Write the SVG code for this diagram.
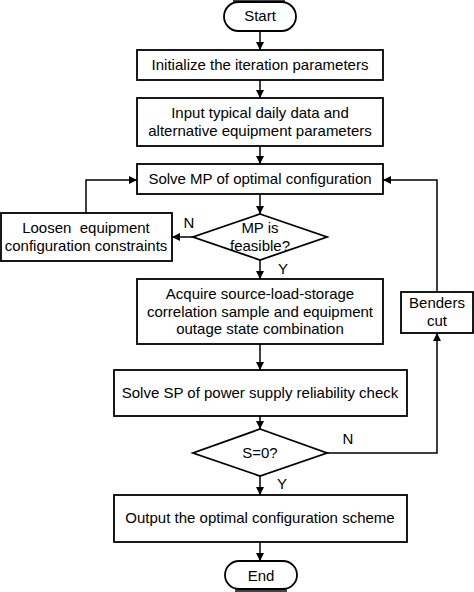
<svg xmlns="http://www.w3.org/2000/svg" width="474" height="592" viewBox="0 0 474 592">
<style>
.b{fill:#fff;stroke:#000;stroke-width:1.8}
.t{font-family:"Liberation Sans",Arial,sans-serif;font-size:15px;fill:#000;text-anchor:middle}
.c{fill:none;stroke:#000;stroke-width:1.5}
</style>
<defs>
<marker id="a" viewBox="0 0 10 10" refX="10" refY="5" markerWidth="8" markerHeight="8" markerUnits="userSpaceOnUse" orient="auto">
<path d="M0,0 L10,5 L0,10 z" fill="#000"/>
</marker>
</defs>
<rect width="474" height="592" fill="#fff"/>
<rect x="233" y="0" width="52" height="3" fill="#444"/>
<rect x="235" y="589" width="52" height="3" fill="#444"/>
<g id="connectors">
<line class="c" x1="260" y1="31" x2="260" y2="50" marker-end="url(#a)"/>
<line class="c" x1="260" y1="80" x2="260" y2="98" marker-end="url(#a)"/>
<line class="c" x1="260" y1="146" x2="260" y2="164" marker-end="url(#a)"/>
<line class="c" x1="260" y1="194" x2="260" y2="214" marker-end="url(#a)"/>
<line class="c" x1="193" y1="237" x2="172" y2="237" marker-end="url(#a)"/>
<polyline class="c" points="86,213 86,180 137,180" marker-end="url(#a)"/>
<line class="c" x1="260" y1="260" x2="260" y2="279" marker-end="url(#a)"/>
<line class="c" x1="260" y1="344" x2="260" y2="370" marker-end="url(#a)"/>
<line class="c" x1="260" y1="416" x2="260" y2="429" marker-end="url(#a)"/>
<polyline class="c" points="327,453 437,453 437,333" marker-end="url(#a)"/>
<polyline class="c" points="437,292 437,180 383,180" marker-end="url(#a)"/>
<line class="c" x1="260" y1="476" x2="260" y2="495" marker-end="url(#a)"/>
<line class="c" x1="260" y1="542" x2="260" y2="561" marker-end="url(#a)"/>
<text class="t" x="189" y="228">N</text>
<text class="t" x="283" y="274">Y</text>
<text class="t" x="348" y="444">N</text>
<text class="t" x="282" y="489">Y</text>
</g>
<g id="start">
<rect class="b" x="224" y="2" width="72" height="29" rx="14.5"/>
<text class="t" x="260" y="21">Start</text>
</g>
<g id="init">
<rect class="b" x="137" y="50" width="246" height="30"/>
<text class="t" x="260" y="70">Initialize the iteration parameters</text>
</g>
<g id="input">
<rect class="b" x="137" y="98" width="246" height="48"/>
<text class="t" x="260" y="118">Input typical daily data and</text>
<text class="t" x="260" y="136">alternative equipment parameters</text>
</g>
<g id="solvemp">
<rect class="b" x="137" y="164" width="246" height="30"/>
<text class="t" x="260" y="184">Solve MP of optimal configuration</text>
</g>
<g id="loosen">
<rect class="b" x="1" y="213" width="171" height="48"/>
<text class="t" x="86" y="233" xml:space="preserve">Loosen  equipment</text>
<text class="t" x="86" y="251">configuration constraints</text>
</g>
<g id="feasible">
<polygon class="b" points="260,214 327,237 260,260 193,237"/>
<text class="t" x="260" y="233">MP is</text>
<text class="t" x="260" y="251">feasible?</text>
</g>
<g id="acquire">
<rect class="b" x="137" y="279" width="246" height="65"/>
<text class="t" x="260" y="299">Acquire source-load-storage</text>
<text class="t" x="260" y="317">correlation sample and equipment</text>
<text class="t" x="260" y="334">outage state combination</text>
</g>
<g id="benders">
<rect class="b" x="401" y="292" width="72" height="41"/>
<text class="t" x="437" y="308">Benders</text>
<text class="t" x="437" y="326">cut</text>
</g>
<g id="solvesp">
<rect class="b" x="114" y="370" width="293" height="46"/>
<text class="t" x="260" y="398">Solve SP of power supply reliability check</text>
</g>
<g id="s0">
<polygon class="b" points="260,429 327,453 260,476 193,453"/>
<text class="t" x="260" y="458">S=0?</text>
</g>
<g id="output">
<rect class="b" x="114" y="495" width="293" height="47"/>
<text class="t" x="260" y="523">Output the optimal configuration scheme</text>
</g>
<g id="end">
<rect class="b" x="225" y="561" width="72" height="28" rx="14"/>
<text class="t" x="261" y="581">End</text>
</g>
</svg>
